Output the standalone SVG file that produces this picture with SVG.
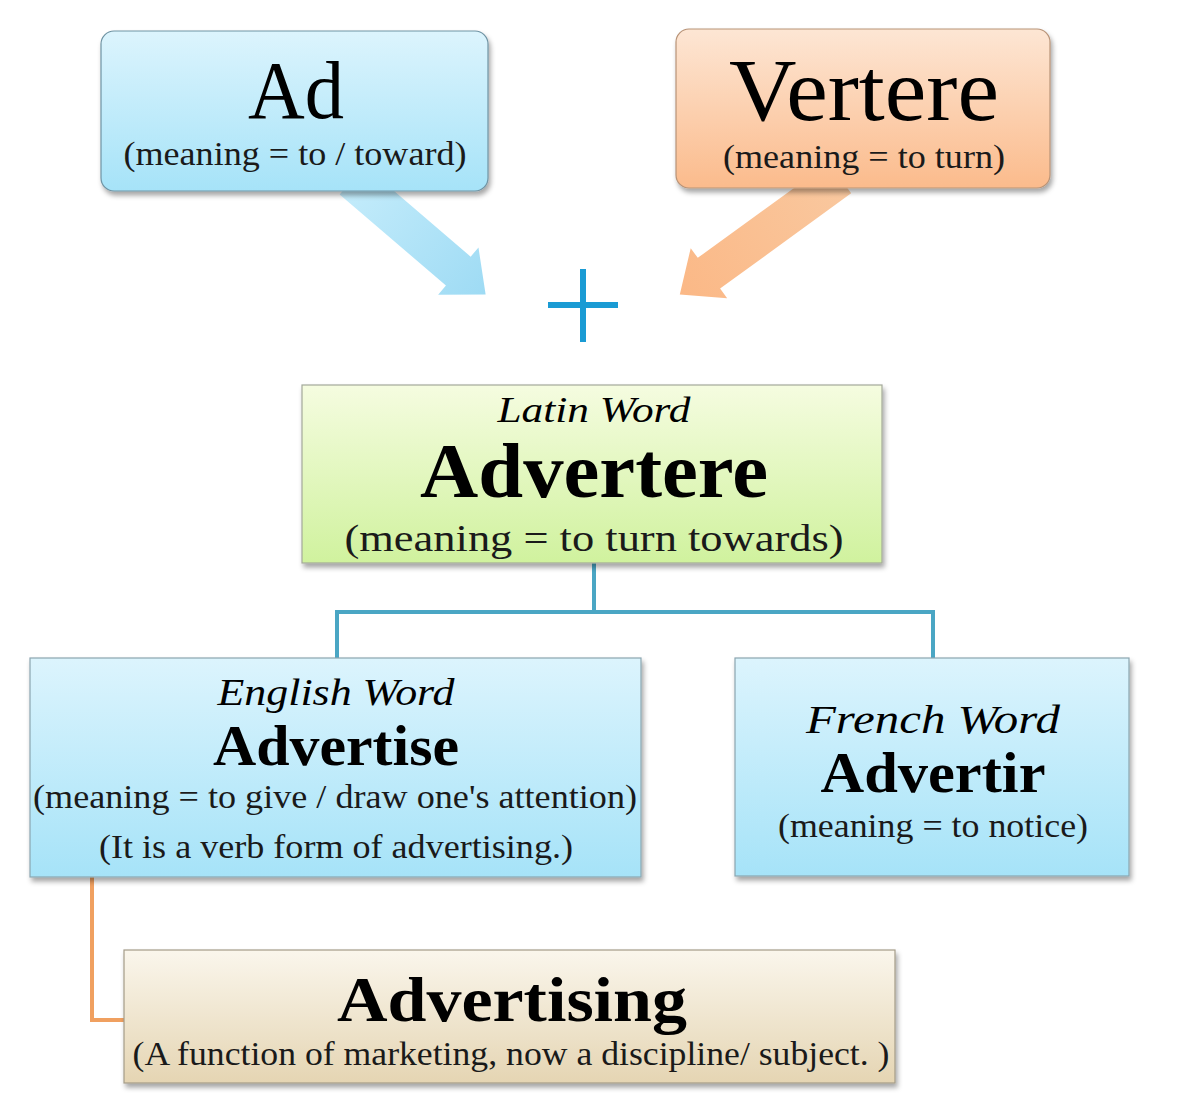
<svg xmlns="http://www.w3.org/2000/svg" width="1200" height="1112" viewBox="0 0 1200 1112">
<defs>
<linearGradient id="gBlue" x1="0" y1="0" x2="0" y2="1"><stop offset="0" stop-color="#dcf4fd"/><stop offset="1" stop-color="#a6e3f8"/></linearGradient>
<linearGradient id="gOrange" x1="0" y1="0" x2="0" y2="1"><stop offset="0" stop-color="#fde6d4"/><stop offset="1" stop-color="#fbbb8c"/></linearGradient>
<linearGradient id="gGreen" x1="0" y1="0" x2="0" y2="1"><stop offset="0" stop-color="#f5fce0"/><stop offset="1" stop-color="#d0f29e"/></linearGradient>
<linearGradient id="gBeige" x1="0" y1="0" x2="0" y2="1"><stop offset="0" stop-color="#faf6ec"/><stop offset="1" stop-color="#e5d5b3"/></linearGradient>
<linearGradient id="gArrB" x1="0" y1="0" x2="1" y2="0"><stop offset="0" stop-color="#c4ecfb"/><stop offset="1" stop-color="#9edbf4"/></linearGradient>
<linearGradient id="gArrO" x1="0" y1="0" x2="1" y2="0"><stop offset="0" stop-color="#f9c89f"/><stop offset="1" stop-color="#fbb886"/></linearGradient>
<filter id="sh" x="-5%" y="-5%" width="112%" height="120%"><feDropShadow dx="2" dy="4" stdDeviation="2.5" flood-color="#000" flood-opacity="0.35"/></filter>
</defs>
<style>
text{font-family:'Liberation Serif';fill:#000;text-anchor:middle}
.it{font-style:italic}
.b{font-weight:bold}
.sub{fill:#1a1a1a}
.conn{fill:none;stroke-width:4}
</style>
<rect width="1200" height="1112" fill="#fff"/>

<g id="connectors">
<path d="M0,-19 L140,-19 L140,-31 L176,0 L140,31 L140,19 L0,19 Z" fill="url(#gArrB)" transform="translate(352,180) rotate(40.6)"/>
<path d="M0,-19 L162,-19 L162,-31 L198,0 L162,31 L162,19 L0,19 Z" fill="url(#gArrO)" transform="translate(840,178) rotate(144)"/>
<path class="conn" d="M594,563 V612 M337,658 V612 H933 V658" stroke="#4aa6c4"/>
<path class="conn" d="M92,877 V1020 H124" stroke="#f0a060" stroke-width="3"/>
</g>

<g id="plus">
<path d="M548,305 H618 M583,269 V342" stroke="#1a9bd4" stroke-width="6" fill="none"/>
</g>

<g id="ad">
<rect x="101" y="31" width="387" height="160" rx="13" fill="url(#gBlue)" stroke="#6f93a3" stroke-width="1.2" filter="url(#sh)"/>
<text x="296" y="118" font-size="82" textLength="96" lengthAdjust="spacingAndGlyphs">Ad</text>
<text class="sub" x="295" y="165" font-size="34" textLength="343" lengthAdjust="spacingAndGlyphs">(meaning = to / toward)</text>
</g>

<g id="vertere">
<rect x="676" y="29" width="374" height="159" rx="13" fill="url(#gOrange)" stroke="#b89377" stroke-width="1.2" filter="url(#sh)"/>
<text x="864" y="120" font-size="88" textLength="270" lengthAdjust="spacingAndGlyphs">Vertere</text>
<text class="sub" x="864" y="168" font-size="33" textLength="282" lengthAdjust="spacingAndGlyphs">(meaning = to turn)</text>
</g>

<g id="latin">
<rect x="302" y="385" width="580" height="178" fill="url(#gGreen)" stroke="#a3a89a" stroke-width="1.2" filter="url(#sh)"/>
<text class="it" x="594" y="422" font-size="36" textLength="193" lengthAdjust="spacingAndGlyphs">Latin Word</text>
<text class="b" x="594" y="497" font-size="78" textLength="348" lengthAdjust="spacingAndGlyphs">Advertere</text>
<text class="sub" x="594" y="551" font-size="38" textLength="499" lengthAdjust="spacingAndGlyphs">(meaning =  to turn towards)</text>
</g>

<g id="english">
<rect x="30" y="658" width="611" height="219" fill="url(#gBlue)" stroke="#8aa5b0" stroke-width="1.2" filter="url(#sh)"/>
<text class="it" x="336" y="705" font-size="38" textLength="237" lengthAdjust="spacingAndGlyphs">English Word</text>
<text class="b" x="336" y="765" font-size="58" textLength="246" lengthAdjust="spacingAndGlyphs">Advertise</text>
<text class="sub" x="335" y="808" font-size="34" textLength="604" lengthAdjust="spacingAndGlyphs">(meaning = to give / draw one's attention)</text>
<text class="sub" x="336" y="858" font-size="33" textLength="474" lengthAdjust="spacingAndGlyphs">(It is a verb form of advertising.)</text>
</g>

<g id="french">
<rect x="735" y="658" width="394" height="218" fill="url(#gBlue)" stroke="#8aa5b0" stroke-width="1.2" filter="url(#sh)"/>
<text class="it" x="933" y="733" font-size="40" textLength="254" lengthAdjust="spacingAndGlyphs">French Word</text>
<text class="b" x="933" y="792" font-size="58" textLength="225" lengthAdjust="spacingAndGlyphs">Advertir</text>
<text class="sub" x="933" y="837" font-size="34" textLength="310" lengthAdjust="spacingAndGlyphs">(meaning = to notice)</text>
</g>

<g id="advertising">
<rect x="124" y="950" width="771" height="133" fill="url(#gBeige)" stroke="#a49c88" stroke-width="1.2" filter="url(#sh)"/>
<text class="b" x="512" y="1021" font-size="64" textLength="350" lengthAdjust="spacingAndGlyphs">Advertising</text>
<text class="sub" x="511" y="1065" font-size="33" textLength="757" lengthAdjust="spacingAndGlyphs">(A function of marketing, now a discipline/ subject. )</text>
</g>
</svg>
